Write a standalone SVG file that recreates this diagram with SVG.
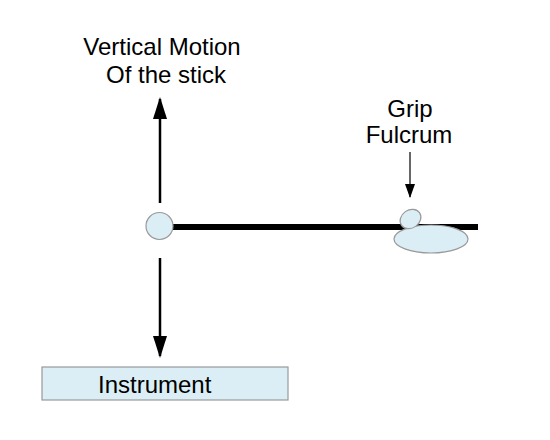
<svg xmlns="http://www.w3.org/2000/svg" width="550" height="440" viewBox="0 0 550 440">
<style>
.t{font-family:"Liberation Sans",Arial,sans-serif;font-size:24px;fill:#000}
.shape{fill:#dbeef5;stroke:#999;stroke-width:1.2}
.ln{stroke:#000;fill:none}
</style>
<defs>
<marker id="ah" markerWidth="22" markerHeight="14" refX="20" refY="7" orient="auto" markerUnits="userSpaceOnUse" viewBox="0 0 22 14">
<path d="M0,0 L22,7 L0,14 Z" fill="#000"/>
</marker>
<marker id="ahs" markerWidth="14" markerHeight="10" refX="13" refY="5" orient="auto" markerUnits="userSpaceOnUse" viewBox="0 0 14 10">
<path d="M0,0 L14,5 L0,10 Z" fill="#000"/>
</marker>
</defs>
<rect width="550" height="440" fill="#fff"/>
<g id="connectors">
<line class="ln" x1="160" y1="203" x2="160" y2="99" stroke-width="2.5" marker-end="url(#ah)"/>
<line class="ln" x1="160" y1="258" x2="160" y2="356" stroke-width="2.5" marker-end="url(#ah)"/>
<line class="ln" x1="410" y1="152" x2="410" y2="197" stroke-width="1.2" marker-end="url(#ahs)"/>
</g>
<g id="stick">
<line x1="172" y1="227" x2="478" y2="227" stroke="#000" stroke-width="6"/>
</g>
<g id="pivot">
<circle class="shape" cx="159.5" cy="226" r="13.5"/>
</g>
<g id="fulcrum">
<ellipse class="shape" cx="431" cy="239" rx="37" ry="14"/>
<ellipse class="shape" cx="410.5" cy="219" rx="11" ry="9" transform="rotate(-35 410.5 219)"/>
</g>
<g id="instrument">
<rect class="shape" x="42" y="367" width="246" height="33"/>
<text class="t" x="98" y="393">Instrument</text>
</g>
<g id="label-motion">
<text class="t" x="162" y="55" text-anchor="middle">Vertical Motion</text>
<text class="t" x="166" y="83" text-anchor="middle">Of the stick</text>
</g>
<g id="label-grip">
<text class="t" x="410" y="117" text-anchor="middle">Grip</text>
<text class="t" x="409" y="143" text-anchor="middle">Fulcrum</text>
</g>
</svg>
